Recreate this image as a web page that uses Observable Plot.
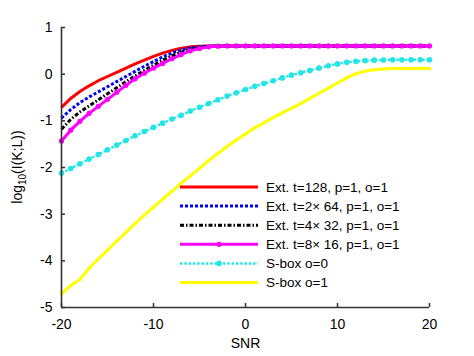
<!DOCTYPE html>
<html><head><meta charset="utf-8">
<script src="https://cdn.jsdelivr.net/npm/d3@7"></script>
<script src="https://cdn.jsdelivr.net/npm/@observablehq/plot@0.6"></script>
<style>body{margin:0;background:#fff;}</style>
</head><body><div id="chart"></div>
<script>
// ---- data ----
const snr = [-20,-19,-18,-17,-16,-15,-14,-13,-12,-11,-10,-9,-8,-7,-6,-5,-4,-3,-2,-1,0,1,2,3,4,5,6,7,8,9,10,11,12,13,14,15,16,17,18,19,20];
const extT128 = [-0.71,-0.52,-0.37,-0.25,-0.14,-0.05,0.04,0.13,0.22,0.30,0.38,0.45,0.51,0.555,0.585,0.60,
  0.605,0.605,0.605,0.605,0.605,0.605,0.605,0.605,0.605,0.605,0.605,0.605,0.605,0.605,0.605,0.605,0.605,0.605,0.605,0.605,0.605,0.605,0.605,0.605,0.605];
const extT2x64 = [-0.94,-0.76,-0.61,-0.49,-0.38,-0.27,-0.16,-0.05,0.06,0.17,0.27,0.37,0.45,0.52,0.565,0.59,0.60,
  0.605,0.605,0.605,0.605,0.605,0.605,0.605,0.605,0.605,0.605,0.605,0.605,0.605,0.605,0.605,0.605,0.605,0.605,0.605,0.605,0.605,0.605,0.605,0.605];
const extT4x32 = [-1.18,-0.97,-0.81,-0.68,-0.55,-0.42,-0.29,-0.16,-0.04,0.08,0.19,0.30,0.39,0.47,0.53,0.57,0.595,
  0.605,0.605,0.605,0.605,0.605,0.605,0.605,0.605,0.605,0.605,0.605,0.605,0.605,0.605,0.605,0.605,0.605,0.605,0.605,0.605,0.605,0.605,0.605,0.605];
const extT8x16 = [-1.43,-1.20,-1.01,-0.84,-0.69,-0.54,-0.39,-0.24,-0.10,0.02,0.13,0.23,0.33,0.42,0.50,0.55,0.585,0.60,
  0.605,0.605,0.605,0.605,0.605,0.605,0.605,0.605,0.605,0.605,0.605,0.605,0.605,0.605,0.605,0.605,0.605,0.605,0.605,0.605,0.605,0.605,0.605];
const sboxO0 = [-2.12,-2.02,-1.92,-1.82,-1.72,-1.62,-1.52,-1.42,-1.32,-1.23,-1.14,-1.05,-0.96,-0.88,-0.79,-0.71,-0.63,-0.55,-0.47,-0.40,-0.33,
  -0.26,-0.20,-0.14,-0.08,-0.02,0.03,0.08,0.13,0.18,0.22,0.255,0.275,0.29,0.30,0.305,0.31,0.31,0.31,0.31,0.31];
const sboxO1 = [-4.71,-4.53,-4.40,-4.16,-3.96,-3.77,-3.58,-3.39,-3.20,-3.02,-2.85,-2.68,-2.51,-2.34,-2.18,-2.02,-1.85,-1.70,-1.55,-1.41,-1.28,
  -1.15,-1.04,-0.93,-0.83,-0.73,-0.63,-0.52,-0.41,-0.30,-0.19,-0.08,0.01,0.065,0.095,0.11,0.12,0.12,0.12,0.12,0.12];
const seriesNames = ["Ext. t=128, p=1, o=1","Ext. t=2\u00d7 64, p=1, o=1","Ext. t=4\u00d7 32, p=1, o=1","Ext. t=8\u00d7 16, p=1, o=1","S-box o=0","S-box o=1"];
const xTicks = [-20,-10,0,10,20];
const yTicks = [-5,-4,-3,-2,-1,0,1];
const xLabel = "SNR";
const yLabelParts = ["log", "10", "(I(K;L))"];

// ---- styles ----
const seriesValues = [extT128, extT2x64, extT4x32, extT8x16, sboxO0, sboxO1];
const styles = [
  {color:"#ff0000", w:3, dash:null, r:0},
  {color:"#0000ff", w:3, dash:"3,2", r:0},
  {color:"#000000", w:3, dash:"4,2,1.5,2", r:0},
  {color:"#ff00ff", w:3, dash:null, r:2.6},
  {color:"#22e6e6", w:2.5, dash:"2.5,1.8", r:2.8},
  {color:"#ffff00", w:3, dash:null, r:1.8}
];

const marks = [];
seriesValues.forEach((vals, k) => {
  const st = styles[k];
  marks.push(Plot.line(vals, {x: (d,i) => snr[i], y: d => d, stroke: st.color, strokeWidth: st.w,
    strokeDasharray: st.dash, strokeLinejoin: "miter", strokeLinecap: "butt"}));
  if (st.r > 0) marks.push(Plot.dot(vals, {x: (d,i) => snr[i], y: d => d, r: st.r, fill: st.color, stroke: "none"}));
});

const chart = Plot.plot({
  width: 474, height: 356,
  marginLeft: 61, marginRight: 45, marginTop: 27, marginBottom: 49,
  style: {fontFamily: "'Liberation Sans', Arial, sans-serif", fontSize: "14px", background: "#fff", color: "#000"},
  x: {domain: [xTicks[0], xTicks[xTicks.length-1]]},
  y: {domain: [yTicks[0], yTicks[yTicks.length-1]]},
  marks: [
    ...marks,
    Plot.ruleX([xTicks[0]], {stroke: "#333", strokeWidth: 1.6}),
    Plot.ruleY([yTicks[0]], {stroke: "#333", strokeWidth: 1.6}),
    Plot.axisX({ticks: xTicks, tickSize: -4, tickPadding: 16, tickFormat: d => String(d), label: null, stroke: "#333", strokeWidth: 1.5, fill: "#000"}),
    Plot.axisY({ticks: yTicks, tickSize: -4, tickPadding: 13, tickFormat: d => String(d), label: null, stroke: "#333", strokeWidth: 1.5, fill: "#000"}),
    Plot.text([xLabel], {frameAnchor: "bottom", dy: 40, fontSize: 14, fill: "#000", text: d => d})
  ]
});
document.getElementById("chart").appendChild(chart);

// ---- y label with subscript ----
const svg = d3.select(chart);
const yl = svg.append("text")
  .attr("transform", "translate(22,167) rotate(-90)")
  .attr("text-anchor", "middle")
  .attr("font-size", 14).attr("fill", "#000");
yl.append("tspan").text(yLabelParts[0]);
yl.append("tspan").attr("font-size", 10).attr("dy", 4).text(yLabelParts[1]);
yl.append("tspan").attr("dy", -4).text(yLabelParts[2]);

// ---- legend ----
const lg = svg.append("g").attr("font-size", 13.5).attr("fill", "#000").attr("text-anchor", "start");
seriesNames.forEach((name, k) => {
  const st = styles[k];
  const y = 187 + k * 19.1;
  lg.append("line").attr("x1", 180).attr("x2", 258).attr("y1", y).attr("y2", y)
    .attr("stroke", st.color).attr("stroke-width", st.w).attr("stroke-dasharray", st.dash);
  if (st.r > 0) lg.append("circle").attr("cx", 219).attr("cy", y).attr("r", st.r).attr("fill", st.color);
  lg.append("text").attr("x", 266).attr("y", y).attr("dy", "0.35em").attr("text-anchor", "start").text(name);
});
</script>
</body></html>
